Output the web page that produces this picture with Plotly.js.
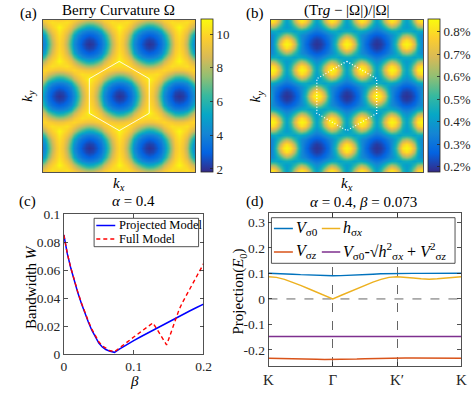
<!DOCTYPE html>
<html><head><meta charset="utf-8">
<script src="https://cdn.plot.ly/plotly-3.0.1.min.js"></script>
<style>
html,body{margin:0;padding:0;background:#fff}
#chart text, #chart tspan { font-family: 'Liberation Serif' !important; }
</style>
</head><body><div id="chart" style="width:474px;height:397px"></div>
<script>
// ---------- DATA ----------
// (a) Berry curvature read on one symmetric cell of the lattice grid (rows j=0..12, cols i=0..8)
const berryCell = [
  [2.0,2.18,2.69,3.44,4.3,6.15,8.04,9.38,10.0],
  [2.23,2.4,2.91,3.6,4.56,6.42,8.25,9.49,10.05],
  [2.91,3.09,3.48,4.1,5.33,7.12,8.69,9.69,10.2],
  [3.81,3.93,4.3,5.27,6.71,8.19,9.3,9.9,10.45],
  [5.33,5.55,6.23,7.12,8.25,9.16,9.78,10.24,10.8],
  [7.62,7.77,8.25,8.79,9.41,9.82,10.2,10.09,10.05],
  [9.3,9.38,9.61,9.77,10.0,9.77,9.61,9.38,9.3],
  [10.05,10.09,10.2,9.82,9.41,8.79,8.25,7.77,7.62],
  [10.8,10.24,9.78,9.16,8.25,7.12,6.23,5.55,5.33],
  [10.45,9.9,9.3,8.19,6.71,5.27,4.3,3.93,3.81],
  [10.2,9.69,8.69,7.12,5.33,4.1,3.48,3.09,2.91],
  [10.05,9.49,8.25,6.42,4.56,3.6,2.91,2.4,2.23],
  [10.0,9.38,8.04,6.15,4.3,3.44,2.69,2.18,2.0]
];
// (b) (Tr g - |Omega|)/|Omega| in percent, same cell
const ratioCell = [
  [0.19,0.20,0.235,0.285,0.365,0.49,0.69,0.82,0.85],
  [0.20,0.215,0.25,0.30,0.36,0.46,0.63,0.76,0.81],
  [0.25,0.26,0.29,0.335,0.365,0.42,0.50,0.59,0.63],
  [0.31,0.325,0.365,0.41,0.44,0.445,0.42,0.445,0.455],
  [0.365,0.40,0.48,0.58,0.63,0.59,0.50,0.43,0.40],
  [0.41,0.48,0.63,0.76,0.81,0.76,0.63,0.48,0.41],
  [0.42,0.51,0.69,0.82,0.85,0.82,0.69,0.51,0.42],
  [0.41,0.48,0.63,0.76,0.81,0.76,0.63,0.48,0.41],
  [0.40,0.43,0.50,0.59,0.63,0.58,0.48,0.40,0.365],
  [0.455,0.445,0.42,0.445,0.44,0.41,0.365,0.325,0.31],
  [0.63,0.59,0.50,0.42,0.365,0.335,0.29,0.26,0.25],
  [0.81,0.76,0.63,0.46,0.36,0.30,0.25,0.215,0.20],
  [0.85,0.82,0.69,0.49,0.365,0.285,0.235,0.20,0.19]
];
const berryTicks = [2,4,6,8,10];
const ratioTicks = [0.2,0.3,0.4,0.5,0.6,0.7,0.8];
const ratioTickText = ['0.2%','0.3%','0.4%','0.5%','0.6%','0.7%','0.8%'];
// Brillouin-zone hexagon
const hexKx = [0, 0.5, 0.5, 0, -0.5, -0.5, 0];
const hexKy = [0.5774, 0.2887, -0.2887, -0.5774, -0.2887, 0.2887, 0.5774];

// (c) bandwidth vs beta
const betaProj = [0,0.005,0.01,0.015,0.02,0.025,0.03,0.035,0.04,0.045,0.05,0.055,0.06,0.065,0.0725,0.08,0.09,0.1,0.11,0.12,0.13,0.14,0.15,0.16,0.17,0.18,0.19,0.2];
const wProj = [0.085,0.0715,0.0612,0.0520,0.0437,0.0362,0.0292,0.0228,0.0170,0.0120,0.0078,0.0050,0.0032,0.0021,0.0012,0.0037,0.0068,0.0096,0.0123,0.0150,0.0177,0.0204,0.0230,0.0256,0.0282,0.0307,0.0332,0.0356];
const betaFull = [0,0.005,0.01,0.015,0.02,0.025,0.03,0.035,0.04,0.045,0.05,0.055,0.06,0.065,0.0725,0.08,0.09,0.1,0.11,0.12,0.1275,0.135,0.14,0.147,0.15,0.155,0.16,0.165,0.17,0.18,0.19,0.2];
const wFull = [0.085,0.0717,0.0615,0.0524,0.0442,0.0367,0.0298,0.0235,0.0178,0.0128,0.0087,0.0058,0.0039,0.0026,0.0016,0.0046,0.0084,0.0121,0.0158,0.0195,0.0222,0.0163,0.0122,0.0065,0.0105,0.0180,0.0255,0.0318,0.0370,0.0465,0.0556,0.0645];
const betaTicks = [0,0.1,0.2], betaTickText = ['0','0.1','0.2'];
const wTicks = [0,0.02,0.04,0.06,0.08,0.1], wTickText = ['0','0.02','0.04','0.06','0.08','0.1'];

// (d) projections along K-Gamma-K'-K
const pathPos = [0,0.125,0.25,0.375,0.5,0.625,0.75,0.875,1,1.125,1.25,1.375,1.5,1.625,1.75,1.875,2,2.125,2.25,2.375,2.5,2.625,2.75,2.875,3];
const vSigma0 = [0.1008,0.1003,0.0990,0.0972,0.0953,0.0936,0.0922,0.0914,0.0912,0.0914,0.0922,0.0936,0.0953,0.0970,0.0986,0.0998,0.1005,0.1007,0.1005,0.1002,0.1000,0.1002,0.1005,0.1007,0.1008];
const hSigmaX = [0.087,0.0845,0.077,0.066,0.053,0.040,0.027,0.0135,0.0,0.0135,0.027,0.040,0.053,0.066,0.077,0.0845,0.087,0.0855,0.082,0.079,0.0775,0.079,0.082,0.0855,0.087];
const vSigmaZ = [-0.2325,-0.2327,-0.2333,-0.2342,-0.2352,-0.2361,-0.2368,-0.2373,-0.2375,-0.2373,-0.2367,-0.2358,-0.2347,-0.2336,-0.2325,-0.2316,-0.2312,-0.2314,-0.2318,-0.2322,-0.2324,-0.2324,-0.2322,-0.2324,-0.2325];
const vLower = [-0.1472,-0.1471,-0.1469,-0.1466,-0.1463,-0.1462,-0.1462,-0.1462,-0.1463,-0.1462,-0.1462,-0.1462,-0.1463,-0.1466,-0.1469,-0.1471,-0.1472,-0.1471,-0.1470,-0.1469,-0.1469,-0.1469,-0.1470,-0.1471,-0.1472];
const pathTicks = [0,1,2,3], pathTickText = ['K','Γ','K′','K'];
const projTicks = [-0.2,-0.1,0,0.1,0.2,0.3], projTickText = ['-0.2','-0.1','0','0.1','0.2','0.3'];

// ---------- helpers ----------
const W = 474, H = 397;
const PX = x => x / W, PY = y => 1 - y / H;
const FONT = 'Liberation Serif';
const INK = '#262626';
const GRID_I = []; for (let i = -22; i <= 22; i++) GRID_I.push(i);
const GRID_J = []; for (let j = -18; j <= 18; j++) GRID_J.push(j);
const kx = GRID_I.map(i => i / 16);
const ky = GRID_J.map(j => j * Math.sqrt(3) / 24);
function foldI(i){ const m = ((i % 16) + 16) % 16; return m > 8 ? 16 - m : m; }
function foldJ(j){ const m = Math.abs(j) % 24; return m > 12 ? 24 - m : m; }
function tile(cell){ return GRID_J.map(j => GRID_I.map(i => cell[foldJ(j)][foldI(i)])); }

const parula = [[0,'#352a87'],[0.125,'#0363e1'],[0.25,'#1485d4'],[0.375,'#06a7c6'],[0.5,'#38b99e'],[0.625,'#92bf73'],[0.75,'#d9ba56'],[0.875,'#fcce2e'],[1,'#f9fb0e']];

function cbar(x, tickvals, ticktext){
  const c = {x: PX(x), xanchor:'left', y: PY(95.5), yanchor:'middle', len: 153/H, lenmode:'fraction',
    thickness: 12, thicknessmode:'pixels', xpad:0, ypad:0, outlinewidth:0.8, outlinecolor:INK,
    tickvals: tickvals, ticks:'inside', ticklen:3, tickcolor:INK, tickwidth:0.8,
    tickfont:{family:FONT, size:13, color:INK}};
  if (ticktext) c.ticktext = ticktext;
  return c;
}

const traces = [
  {type:'heatmap', x:kx, y:ky, z:tile(berryCell), zsmooth:'best', colorscale:parula, zmin:1.82, zmax:10.89,
   xaxis:'x', yaxis:'y', hoverinfo:'skip', colorbar:cbar(201, berryTicks)},
  {type:'scatter', mode:'lines', x:hexKx, y:hexKy, xaxis:'x', yaxis:'y', line:{color:'rgba(255,255,255,0.85)', width:1}, hoverinfo:'skip'},
  {type:'heatmap', x:kx, y:ky, z:tile(ratioCell), zsmooth:'best', colorscale:parula, zmin:0.176, zmax:0.856,
   xaxis:'x2', yaxis:'y2', hoverinfo:'skip', colorbar:cbar(428, ratioTicks, ratioTickText)},
  {type:'scatter', mode:'lines', x:hexKx, y:hexKy, xaxis:'x2', yaxis:'y2', line:{color:'#ffffff', width:1.3, dash:'1px,2px'}, hoverinfo:'skip'},
  {type:'scatter', mode:'lines', name:'Projected Model', x:betaProj, y:wProj, xaxis:'x3', yaxis:'y3', line:{color:'#0000ff', width:1.5}},
  {type:'scatter', mode:'lines', name:'Full Model', x:betaFull, y:wFull, xaxis:'x3', yaxis:'y3', line:{color:'#ff0000', width:1.4, dash:'4px,3px'}},
  {type:'scatter', mode:'lines', x:pathPos, y:vSigma0, xaxis:'x4', yaxis:'y4', line:{color:'#0072BD', width:1.4}},
  {type:'scatter', mode:'lines', x:pathPos, y:hSigmaX, xaxis:'x4', yaxis:'y4', line:{color:'#EDB120', width:1.4}},
  {type:'scatter', mode:'lines', x:pathPos, y:vSigmaZ, xaxis:'x4', yaxis:'y4', line:{color:'#D95319', width:1.4}},
  {type:'scatter', mode:'lines', x:pathPos, y:vLower, xaxis:'x4', yaxis:'y4', line:{color:'#7E2F8E', width:1.4}}
];

const boxAxis = {showticklabels:false, ticks:'', showline:true, mirror:true, linecolor:INK, linewidth:0.8, showgrid:false, zeroline:false, fixedrange:true};
const lineAxis = {ticks:'inside', ticklen:4, tickwidth:0.8, tickcolor:INK, showline:true, mirror:'ticks', linecolor:INK, linewidth:0.8,
  showgrid:false, zeroline:false, tickfont:{family:FONT, size:13.5, color:INK}};

const ann = (x, y, text, size, opts) => Object.assign({xref:'paper', yref:'paper', x:PX(x), y:PY(y), text:text, showarrow:false,
  xanchor:'center', yanchor:'middle', font:{family:FONT, size:size, color:'#000'}}, opts || {});

const annotations = [
  ann(29, 13, '(a)', 15), ann(119, 10, 'Berry Curvature Ω', 15),
  ann(256, 13, '(b)', 15), ann(348, 10, '(Tr<i>g</i> − |Ω|)/|Ω|', 15),
  ann(119, 184, '<i>k</i><sub><i>x</i></sub>', 15), ann(28, 96, '<i>k</i><sub><i>y</i></sub>', 15, {textangle:-90}),
  ann(348, 184, '<i>k</i><sub><i>x</i></sub>', 15), ann(257, 96, '<i>k</i><sub><i>y</i></sub>', 15, {textangle:-90}),
  ann(28, 201, '(c)', 15), ann(134, 201, '<i>α</i> = 0.4', 15),
  ann(256, 201, '(d)', 15), ann(364, 202, '<i>α</i> = 0.4, <i>β</i> = 0.073', 15),
  ann(31, 287, 'Bandwidth <i>W</i>', 15, {textangle:-90}), ann(135, 381, '<i>β</i>', 15),
  ann(240, 291, 'Projection(<i>E</i><sub>0</sub>)', 15, {textangle:-90}),
  // legend (c)
  ann(117, 225, 'Projected Model', 12.5, {xanchor:'left'}),
  ann(117, 239, 'Full Model', 12.5, {xanchor:'left'}),
  // legend (d)
  ann(295, 228, '<i>V</i><sub>σ0</sub>', 16, {xanchor:'left'}),
  ann(342, 228, '<i>h</i><sub>σ<i>x</i></sub>', 16, {xanchor:'left'}),
  ann(295, 251.5, '<i>V</i><sub>σ<i>z</i></sub>', 16, {xanchor:'left'}),
  ann(342, 251.5, '<i>V</i><sub>σ0</sub>-√<i>h</i><sup>2</sup><sub>σ<i>x</i></sub> + <i>V</i><sup>2</sup><sub>σ<i>z</i></sub>', 16, {xanchor:'left'})
];

const pline = (x0, y0, x1, y1, color, width, dash) => ({type:'line', xref:'paper', yref:'paper', x0:PX(x0), y0:PY(y0), x1:PX(x1), y1:PY(y1), line:{color:color, width:width, dash:dash || 'solid'}});
const shapes = [
  {type:'line', xref:'x4 domain', yref:'y4', x0:0, x1:1, y0:0, y1:0, layer:'below', line:{color:'#404040', width:0.8, dash:'dash'}},
  {type:'rect', xref:'paper', yref:'paper', x0:PX(94.3), x1:PX(199), y0:PY(246.7), y1:PY(218.3), fillcolor:'#fff', line:{color:INK, width:0.8}},
  pline(96.5, 225.5, 115.5, 225.5, '#0000ff', 1.5),
  pline(96.5, 239, 115.5, 239, '#ff0000', 1.4, '4px,3px'),
  {type:'rect', xref:'paper', yref:'paper', x0:PX(272), x1:PX(456), y0:PY(263.3), y1:PY(217.7), fillcolor:'#fff', line:{color:INK, width:0.8}},
  pline(274.5, 228.5, 293.5, 228.5, '#0072BD', 1.5),
  pline(322.5, 228.5, 341, 228.5, '#EDB120', 1.5),
  pline(274.5, 252, 293.5, 252, '#D95319', 1.5),
  pline(322.5, 252, 341, 252, '#7E2F8E', 1.5)
];

const layout = {
  width: W, height: H, margin:{l:0, r:0, t:0, b:0}, paper_bgcolor:'#fff', plot_bgcolor:'#fff',
  showlegend:false,
  xaxis: Object.assign({}, boxAxis, {domain:[PX(43), PX(196)], range:[-1.275, 1.275], anchor:'y'}),
  yaxis: Object.assign({}, boxAxis, {domain:[PY(172), PY(20)], range:[-1.267, 1.267], anchor:'x'}),
  xaxis2: Object.assign({}, boxAxis, {domain:[PX(271), PX(424)], range:[-1.275, 1.275], anchor:'y2'}),
  yaxis2: Object.assign({}, boxAxis, {domain:[PY(172), PY(20)], range:[-1.267, 1.267], anchor:'x2'}),
  xaxis3: Object.assign({}, lineAxis, {domain:[PX(64), PX(204)], range:[0, 0.2], anchor:'y3', tickvals:betaTicks, ticktext:betaTickText}),
  yaxis3: Object.assign({}, lineAxis, {domain:[PY(354), PY(214)], range:[0, 0.1], anchor:'x3', tickvals:wTicks, ticktext:wTickText}),
  xaxis4: Object.assign({}, lineAxis, {domain:[PX(269), PX(462.3)], range:[0, 3], anchor:'y4', tickvals:pathTicks, ticktext:pathTickText,
           showgrid:true, gridcolor:'#404040', gridwidth:0.8, griddash:'dash', tickfont:{family:FONT, size:15, color:INK}}),
  yaxis4: Object.assign({}, lineAxis, {domain:[PY(366), PY(213.3)], range:[-0.263, 0.336], anchor:'x4', tickvals:projTicks, ticktext:projTickText}),
  annotations: annotations,
  shapes: shapes
};

Plotly.newPlot('chart', traces, layout, {displayModeBar:false, staticPlot:true});
</script></body></html>
